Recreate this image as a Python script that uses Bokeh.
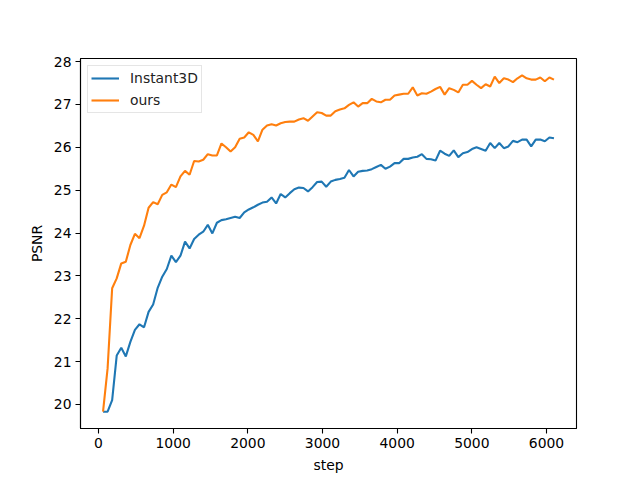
from bokeh.plotting import figure
from bokeh.models import Range1d, FixedTicker, Legend, LegendItem
from bokeh.embed import file_html
from bokeh.resources import INLINE

# training steps at which PSNR was evaluated
steps = [
    61, 122, 183, 244, 305, 366, 427, 488, 549, 610,
    671, 732, 793, 854, 915, 976, 1037, 1098, 1159, 1220,
    1281, 1342, 1403, 1464, 1525, 1586, 1647, 1708, 1769, 1830,
    1891, 1952, 2013, 2074, 2135, 2196, 2257, 2318, 2379, 2440,
    2501, 2562, 2623, 2684, 2745, 2806, 2867, 2928, 2989, 3050,
    3111, 3172, 3233, 3294, 3355, 3416, 3477, 3538, 3599, 3660,
    3721, 3782, 3843, 3904, 3965, 4026, 4087, 4148, 4209, 4270,
    4331, 4392, 4453, 4514, 4575, 4636, 4697, 4758, 4819, 4880,
    4941, 5002, 5063, 5124, 5185, 5246, 5307, 5368, 5429, 5490,
    5551, 5612, 5673, 5734, 5795, 5856, 5917, 5978, 6039, 6100,
]

instant3d = [
    19.83, 19.83, 20.10, 21.14, 21.32, 21.12, 21.46, 21.74, 21.87, 21.80,
    22.16, 22.33, 22.72, 22.98, 23.16, 23.47, 23.32, 23.47, 23.80, 23.64,
    23.86, 23.96, 24.03, 24.19, 23.99, 24.24, 24.30, 24.32, 24.35, 24.38,
    24.35, 24.48, 24.55, 24.60, 24.66, 24.71, 24.73, 24.83, 24.69, 24.91,
    24.83, 24.93, 25.02, 25.06, 25.05, 24.97, 25.07, 25.19, 25.20, 25.08,
    25.20, 25.24, 25.26, 25.29, 25.47, 25.32, 25.43, 25.45, 25.46, 25.49,
    25.54, 25.59, 25.50, 25.55, 25.63, 25.63, 25.73, 25.73, 25.76, 25.78,
    25.84, 25.73, 25.72, 25.69, 25.92, 25.85, 25.80, 25.93, 25.77, 25.86,
    25.89, 25.96, 26.00, 25.96, 25.92, 26.10, 25.98, 26.10, 25.98, 26.02,
    26.15, 26.12, 26.18, 26.18, 26.02, 26.18, 26.18, 26.14, 26.23, 26.21,
]

ours = [
    19.83, 20.84, 22.71, 22.94, 23.29, 23.33, 23.72, 23.98, 23.88, 24.17,
    24.59, 24.72, 24.67, 24.89, 24.95, 25.13, 25.07, 25.32, 25.45, 25.36,
    25.68, 25.67, 25.71, 25.84, 25.81, 25.81, 26.09, 26.00, 25.90, 26.00,
    26.20, 26.23, 26.35, 26.29, 26.14, 26.41, 26.51, 26.54, 26.51, 26.56,
    26.59, 26.60, 26.60, 26.65, 26.68, 26.62, 26.72, 26.82, 26.80, 26.74,
    26.74, 26.84, 26.88, 26.91, 26.99, 27.05, 26.95, 27.03, 27.03, 27.13,
    27.07, 27.05, 27.11, 27.11, 27.21, 27.23, 27.25, 27.25, 27.40, 27.21,
    27.26, 27.25, 27.30, 27.36, 27.41, 27.23, 27.38, 27.34, 27.28, 27.46,
    27.46, 27.55, 27.46, 27.38, 27.47, 27.42, 27.65, 27.50, 27.61, 27.58,
    27.52, 27.61, 27.68, 27.61, 27.58, 27.58, 27.63, 27.54, 27.63, 27.58,
]

x_ticks = [0, 1000, 2000, 3000, 4000, 5000, 6000]
y_ticks = [20, 21, 22, 23, 24, 25, 26, 27, 28]

FONT = "DejaVu Sans"
FSIZE = "13.9px"

# matplotlib-like 5% margins
xpad = (max(steps) - min(steps)) * 0.05
ylo = min(instant3d + ours)
yhi = max(instant3d + ours)
ypad = (yhi - ylo) * 0.05

p = figure(
    frame_width=496,
    frame_height=370,
    min_border_left=80,
    min_border_right=48,
    min_border_top=58,
    min_border_bottom=44,
    x_range=Range1d(min(steps) - xpad, max(steps) + xpad),
    y_range=Range1d(ylo - ypad, yhi + ypad),
    output_backend="svg",
    toolbar_location=None,
    x_axis_label="step",
    y_axis_label="PSNR",
)

r1 = p.line(steps, instant3d, line_color="#1f77b4", line_width=2.1)
r2 = p.line(steps, ours, line_color="#ff7f0e", line_width=2.1)

p.xgrid.visible = False
p.ygrid.visible = False
p.outline_line_color = "black"
p.outline_line_width = 1.1
p.outline_line_alpha = 1.0
p.background_fill_color = "white"
p.border_fill_color = "white"

p.xaxis.ticker = FixedTicker(ticks=x_ticks)
p.yaxis.ticker = FixedTicker(ticks=y_ticks)

for ax in (p.xaxis, p.yaxis):
    ax.axis_line_color = "black"
    ax.axis_line_width = 1.1
    ax.major_tick_line_color = "black"
    ax.major_tick_line_width = 1.1
    ax.major_tick_out = 5
    ax.major_tick_in = 0
    ax.minor_tick_line_color = None
    ax.major_label_text_font = FONT
    ax.major_label_text_font_size = FSIZE
    ax.major_label_text_color = "black"
    ax.major_label_standoff = 4
    ax.axis_label_text_font = FONT
    ax.axis_label_text_font_size = FSIZE
    ax.axis_label_text_font_style = "normal"
    ax.axis_label_text_color = "black"
    ax.axis_label_standoff = 6

legend = Legend(
    items=[
        LegendItem(label="Instant3D", renderers=[r1]),
        LegendItem(label="ours", renderers=[r2]),
    ],
    location="top_left",
    margin=7,
    padding=3,
    spacing=4,
    glyph_width=28,
    glyph_height=18,
    label_height=18,
    label_standoff=11,
    label_text_font=FONT,
    label_text_font_size=FSIZE,
    label_text_color="#222222",
    border_line_color="#cccccc",
    border_line_width=1,
    background_fill_color="white",
    background_fill_alpha=0.8,
)
p.add_layout(legend)

open("out.html", "w").write(file_html(p, INLINE))
